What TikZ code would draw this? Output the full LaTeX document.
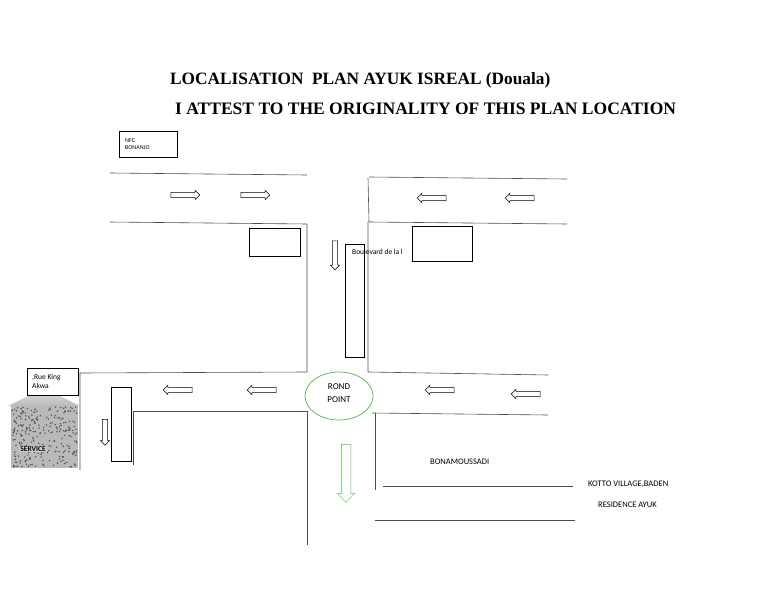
\documentclass[tikz,border=0pt]{standalone}
\usepackage{fontspec}
\setmainfont{Liberation Serif}
\newfontfamily\sansf{Carlito}
\usetikzlibrary{shapes.arrows,shapes.geometric}
\begin{document}
\begin{tikzpicture}[x=1pt,y=-1pt,
 road/.style={draw=black!70,line width=0.6pt},
 box/.style={draw,line width=0.6pt,inner sep=0pt,anchor=north west},
 arr/.style={single arrow,draw,line width=0.5pt,minimum height=29pt,inner sep=2.3pt,single arrow head extend=2pt},
 lbl/.style={font=\sansf\fontsize{7.5}{9}\selectfont,anchor=west,inner sep=0pt}]
\useasboundingbox (0,0) rectangle (768,594);
% roads
\draw[road] (110,173)--(307,175); \draw[road] (110,222)--(307,224)--(307,372);
\draw[road] (369,177)--(567,179); \draw[road] (567,224)--(369,222)--(368,178);
\draw[road] (368,222)--(368,372)--(548,375);
\draw[road] (80,470)--(80,373)--(307,372);
\draw[road] (133,465)--(133,411)--(307,411)--(307,545);
\draw[road] (372,413)--(548,415);
\draw[road] (375,413)--(375,490);
\draw[road] (383,486)--(573,486);
\draw[road] (375,520)--(575,520);
% boxes
\node[box,minimum width=58pt,minimum height=26pt] (nfc) at (119,131) {};
\node[lbl,font=\sansf\fontsize{6}{7}\selectfont,align=left] (nfct) at (125,144) {NFC\\BONANJO};
\node[box,minimum width=51pt,minimum height=28pt] (b1) at (249,228) {};
\node[box,minimum width=19pt,minimum height=113pt] (b3) at (345,244) {};
\node[lbl] (blv) at (352,252) {Boulevard de la l};
\node[box,fill=white,minimum width=60pt,minimum height=35pt] (b2) at (412,226) {};
\node[box,minimum width=20pt,minimum height=74pt] (b4) at (111,387) {};
% house
\shade[top color=gray!20,bottom color=gray!55] (8,406)--(44,388)--(80,406)--cycle;
\fill[gray!55] (11,406) rectangle (78,468);
\foreach \i in {1,...,260}{\pgfmathsetmacro{\xx}{12+rnd*65}\pgfmathsetmacro{\yy}{407+rnd*60}
 \fill[black!70] (\xx,\yy) circle (0.8);}
\node[font=\sansf\bfseries\fontsize{7.5}{8}\selectfont,fill=gray!40,inner sep=1pt] (srv) at (33,449) {SERVICE};
\node[box,fill=white,minimum width=51pt,minimum height=27pt] (rk) at (27,368) {};
\node[lbl,align=left] (rkt) at (32,381) {,Rue King\\Akwa};
% roundabout
\node[ellipse,draw=green!60!black!70,line width=0.7pt,minimum width=68pt,minimum height=48pt,fill=white] (rp) at (339,396) {};
\node[font=\sansf\fontsize{9}{13}\selectfont,align=center] (rpt) at (339,393) {ROND\\POINT};
% arrows
\node[arr] (a1) at (184,195) {}; \node[arr] (a2) at (254,195) {};
\node[arr,rotate=180] (a3) at (433,198) {}; \node[arr,rotate=180] (a4) at (521,198) {};
\node[arr,rotate=180] (a5) at (179,390) {}; \node[arr,rotate=180] (a6) at (263,390) {};
\node[arr,rotate=180] (a7) at (441,390) {}; \node[arr,rotate=180] (a8) at (527,394) {};
\node[arr,rotate=-90] (a9) at (335,254) {}; \node[arr,rotate=-90,minimum height=26pt] (a10) at (105,431) {};
\node[arr,rotate=-90,draw=green!60!black!70,minimum height=58pt,inner sep=4.5pt,single arrow head extend=4pt] (a11) at (346,471) {};
% texts
\node[lbl,font=\sansf\fontsize{8.5}{10}\selectfont] (bm) at (430,462) {BONAMOUSSADI};
\node[lbl,font=\sansf\fontsize{8.5}{10}\selectfont] (kv) at (588,484) {KOTTO VILLAGE,BADEN};
\node[lbl,font=\sansf\fontsize{8.5}{10}\selectfont] (ra) at (598,505) {RESIDENCE AYUK};
\node[anchor=west,font=\bfseries\fontsize{17.3}{19}\selectfont,inner sep=0pt] (t1) at (170,80) {LOCALISATION\ \ PLAN AYUK ISREAL (Douala)};
\node[anchor=west,font=\bfseries\fontsize{17.5}{19}\selectfont,inner sep=0pt] (t2) at (175,109) {I ATTEST TO THE ORIGINALITY OF THIS PLAN LOCATION};
\end{tikzpicture}
\end{document}
